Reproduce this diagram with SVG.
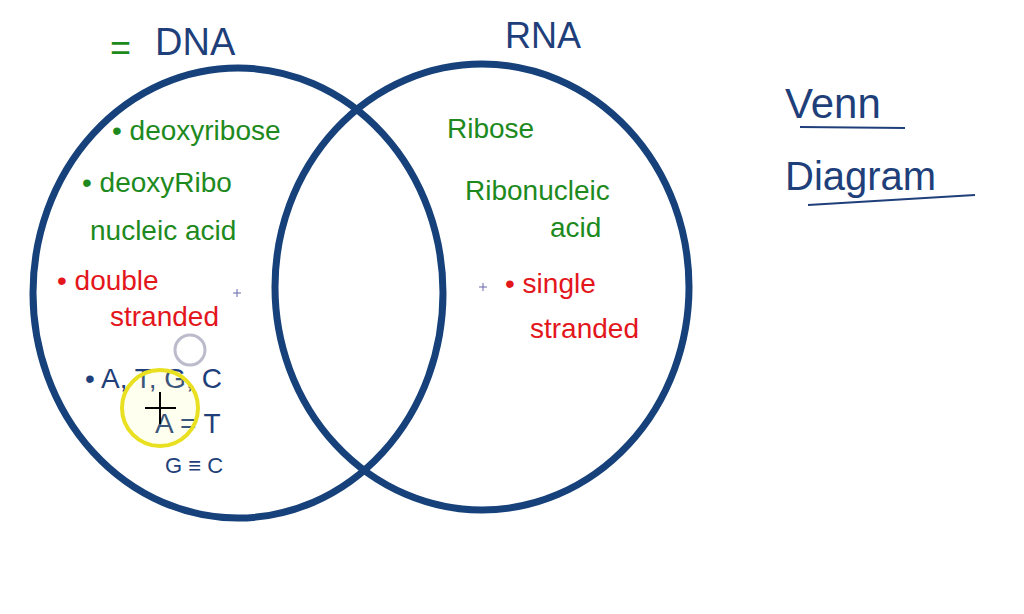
<svg xmlns="http://www.w3.org/2000/svg" width="1024" height="614" viewBox="0 0 1024 614">
<style>
.t{font-family:"Liberation Sans",Arial,sans-serif;font-size:28px}
.g{fill:#1e8a1e}.r{fill:#e3161c}.b{fill:#1f3f7a}
.c{fill:none;stroke:#16417a;stroke-width:7}
.u{stroke:#1f3f7a;stroke-width:2;fill:none}
</style>
<rect width="1024" height="614" fill="#fff"/>
<g id="dna-set"><ellipse class="c" cx="238" cy="293" rx="205" ry="225"/></g>
<g id="rna-set"><ellipse class="c" cx="482" cy="287" rx="207" ry="223"/></g>
<g id="titles">
<text class="t g" x="110" y="60" style="font-size:36px">=</text>
<text class="t b" x="155" y="55" style="font-size:38px">DNA</text>
<text class="t b" x="505" y="48" style="font-size:36px">RNA</text>
<text class="t b" x="785" y="118" style="font-size:42px">Venn</text>
<path class="u" d="M800 127 L905 128"/>
<text class="t b" x="785" y="190" style="font-size:40px">Diagram</text>
<path class="u" d="M808 205 L975 195"/>
</g>
<g id="dna-text">
<text class="t g" x="112" y="140">• deoxyribose</text>
<text class="t g" x="82" y="192">• deoxyRibo</text>
<text class="t g" x="90" y="240">nucleic acid</text>
<text class="t r" x="57" y="290">• double</text>
<text class="t r" x="110" y="326">stranded</text>
<text class="t b" x="85" y="388">• A, T, G, C</text>
<text class="t b" x="155" y="433">A = T</text>
<text class="t b" x="165" y="473" style="font-size:22px">G ≡ C</text>
</g>
<g id="rna-text">
<text class="t g" x="447" y="138">Ribose</text>
<text class="t g" x="465" y="200">Ribonucleic</text>
<text class="t g" x="550" y="237">acid</text>
<text class="t r" x="505" y="293">• single</text>
<text class="t r" x="530" y="338">stranded</text>
</g>
<g id="marks">
<circle cx="160" cy="408" r="38" fill="#ffff80" fill-opacity="0.12" stroke="#e8e020" stroke-width="4"/>
<path d="M160 392 V424 M145 408 H176" stroke="#000" stroke-width="2"/>
<circle cx="190" cy="350" r="15" fill="none" stroke="#bbc" stroke-width="3"/>
<path d="M233 293 H241 M237 289 V297 M479 287 H487 M483 283 V291" stroke="#66a" stroke-width="1"/>
</g>
</svg>
